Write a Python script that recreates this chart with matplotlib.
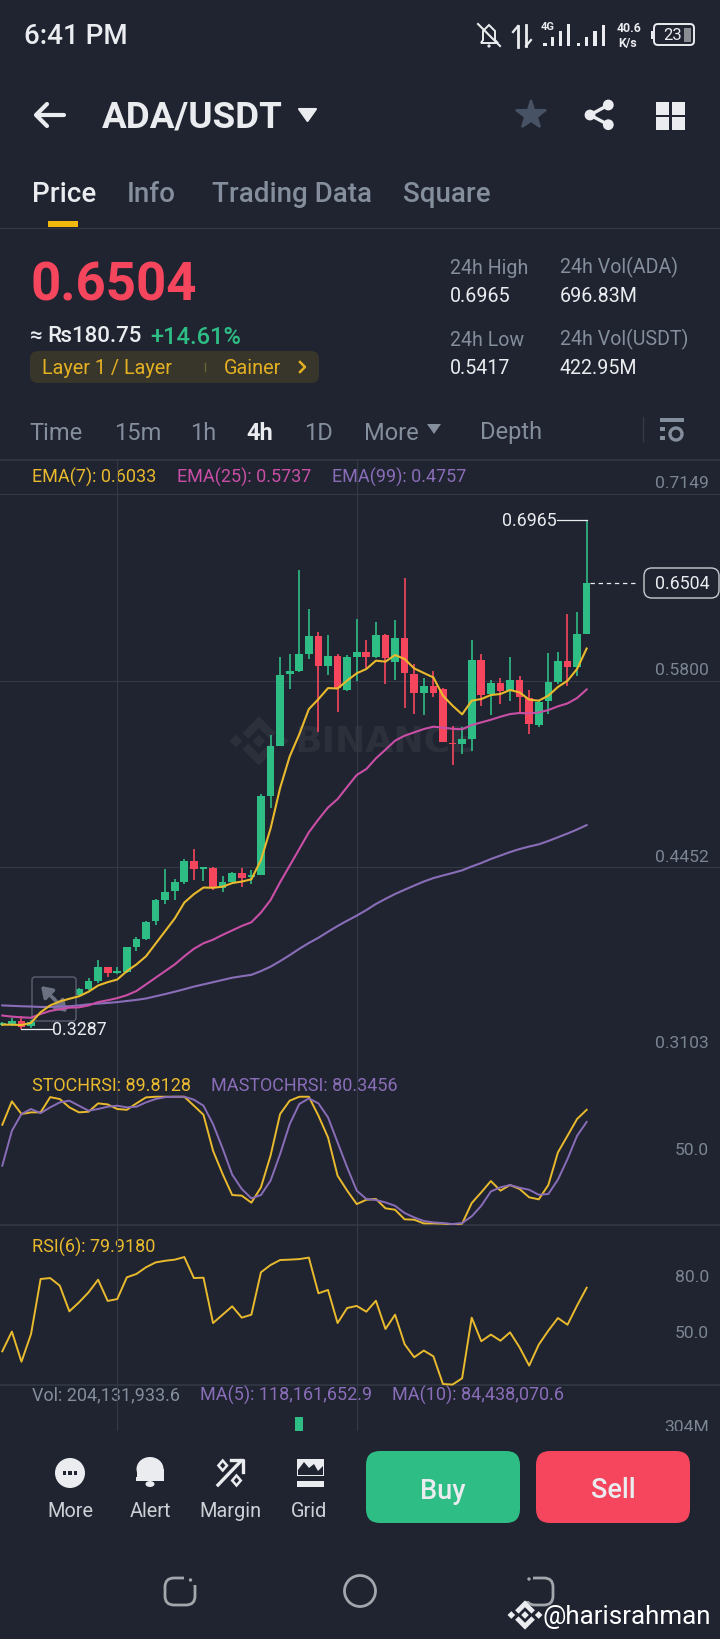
import numpy as np
import matplotlib
matplotlib.use('Agg')
from matplotlib import pyplot as plt
from matplotlib.patches import FancyBboxPatch, Rectangle, Circle, Ellipse, Polygon

plt.rcParams['font.family'] = ['Roboto', 'DejaVu Sans']

# candles
opens = [.3312,.3312,.3339,.3307,.3349,.3408,.3462,.3502,.3528,.3574,
         .3627,.3729,.3689,.3692,.3879,.3932,.4066,.4218,.4280,.4349,
         .4499,.4440,.4445,.4306,.4349,.4413,.4381,.4397,.4969,.5327,
         .5846,.5873,.5990,.6124,.5905,.5980,.5734,.5969,.6010,.5971,
         .6130,.5933,.6111,.5851,.5711,.5764,.5740,.5350,.5345,.5379,
         .5950,.5702,.5783,.5726,.5808,.5677,.5480,.5653,.5788,.5942,
         .5899,.6135]
closes = [.3328,.3339,.3301,.3333,.3408,.3462,.3502,.3528,.3574,.3627,
          .3729,.3686,.3702,.3879,.3932,.4060,.4218,.4274,.4349,.4499,
          .4440,.4451,.4301,.4344,.4413,.4376,.4392,.4969,.5327,.5841,
          .5873,.5990,.6124,.5905,.5980,.5750,.5969,.6006,.5971,.6130,
          .5966,.6111,.5856,.5711,.5764,.5711,.5355,.5340,.5379,.5952,
          .5697,.5783,.5726,.5808,.5682,.5485,.5649,.5793,.5942,.5899,
          .6135,.6504]
highs = [.3333,.3360,.3381,.3349,.3419,.3473,.3515,.3542,.3582,.3654,
         .3782,.3734,.3734,.3879,.3948,.4066,.4226,.4437,.4371,.4510,
         .4584,.4456,.4451,.4392,.4419,.4445,.4429,.4985,.5408,.5969,
         .5990,.6600,.6322,.6151,.6129,.5990,.5985,.6247,.6092,.6222,
         .6135,.6236,.6540,.5918,.5822,.5870,.5745,.5470,.5463,.6096,
         .5990,.5808,.5822,.5969,.5832,.5735,.5658,.6000,.6010,.6280,
         .6299,.6965]
lows = [.3307,.3307,.3287,.3291,.3347,.3398,.3451,.3494,.3515,.3568,
        .3617,.3659,.3681,.3686,.3847,.3927,.4034,.4189,.4215,.4333,
        .4360,.4354,.4285,.4274,.4344,.4312,.4333,.4397,.4884,.5327,
        .5739,.5862,.5958,.5429,.5841,.5573,.5728,.5798,.5894,.5966,
        .5779,.5808,.5600,.5562,.5552,.5682,.5355,.5191,.5268,.5292,
        .5620,.5552,.5634,.5653,.5576,.5417,.5465,.5562,.5779,.5764,
        .5836,.6135]

ema7 = [.3315,.3315,.3312,.3328,.3405,.3454,.3483,.3502,.3520,.3553,
        .3598,.3622,.3641,.3702,.3750,.3809,.3900,.3991,.4082,.4197,
        .4258,.4306,.4304,.4312,.4338,.4349,.4365,.4504,.4731,.5025,
        .5253,.5413,.5595,.5667,.5747,.5744,.5801,.5854,.5885,.5945,
        .5938,.5986,.5957,.5889,.5856,.5824,.5692,.5620,.5557,.5656,
        .5668,.5697,.5704,.5733,.5716,.5663,.5656,.5692,.5755,.5800,
        .5885,.6033]
ema25 = [.3381,.3373,.3368,.3365,.3392,.3414,.3427,.3438,.3440,.3454,
         .3478,.3491,.3507,.3528,.3558,.3606,.3654,.3702,.3750,.3809,
         .3863,.3903,.3929,.3964,.3996,.4028,.4055,.4125,.4215,.4344,
         .4464,.4584,.4705,.4798,.4884,.4945,.5033,.5119,.5162,.5239,
         .5302,.5367,.5403,.5427,.5451,.5468,.5461,.5453,.5449,.5480,
         .5499,.5518,.5540,.5559,.5567,.5564,.5571,.5588,.5615,.5636,
         .5675,.5737]
ema99 = [.3454,.3451,.3448,.3446,.3443,.3443,.3446,.3448,.3454,.3462,
         .3467,.3472,.3478,.3486,.3494,.3504,.3520,.3536,.3553,.3571,
         .3590,.3606,.3622,.3638,.3654,.3665,.3675,.3702,.3734,.3774,
         .3817,.3863,.3905,.3943,.3986,.4028,.4066,.4103,.4143,.4187,
         .4224,.4259,.4290,.4320,.4349,.4374,.4393,.4411,.4430,.4458,
         .4483,.4512,.4537,.4562,.4584,.4602,.4618,.4642,.4669,.4696,
         .4725,.4757]

stoch = [78.1,96.4,86.5,87.8,87.8,99.7,98.2,91.7,87.8,88.3,
         94.8,94.0,90.4,89.8,94.8,99.5,100,100,100,100,
         93.0,85.9,57.8,39.6,23.2,22.7,17.2,29.2,53.9,86.5,
         96.9,100,100,85.2,68.2,38.3,26.6,16.1,19.5,20.1,
         12.8,11.7,4.2,3.9,1.0,1.0,0.8,0,0.8,16.9,
         25.3,34.1,26.6,31.0,27.9,21.4,19.8,31.0,56.5,69.5,
         82.6,89.8]
mastoch = [46.1,73.4,86.5,90.4,87.2,91.7,95.6,96.9,93.0,89.1,
           90.4,92.2,93.0,91.7,92.2,95.6,98.2,99.7,100,100,
           97.7,93.0,78.6,59.6,39.1,27.9,20.6,23.2,34.4,55.2,
           78.6,94.3,98.7,94.8,83.9,64.3,44.8,26.6,20.1,19.3,
           17.4,14.8,9.1,5.7,2.9,1.8,1.3,0.5,1.3,6.5,
           14.8,26.0,29.2,31.0,28.9,27.3,23.4,24.0,35.2,51.3,
           69.5,80.3]
rsi = [45.7,56.3,40.1,55.0,84.6,85.1,81.0,67.2,72.0,77.4,
       84.2,72.8,73.8,85.5,87.3,90.9,93.5,94.4,95.0,96.4,
       85.1,85.3,60.9,65.4,69.9,63.8,65.4,88.2,92.1,94.8,
       95.0,95.3,96.1,76.9,78.7,60.9,69.0,70.1,67.0,72.9,
       57.7,65.4,49.5,42.5,46.1,43.0,28.1,27.8,31.2,63.8,
       51.1,54.7,51.4,55.9,47.8,38.0,49.3,56.8,63.6,60.0,
       70.3,79.9]

# only one volume bar pokes up into the visible strip
vol_idx = [31]
vol_val = [304e6]

price_ticks = [.7149, .5800, .4452, .3103]
price_labels = ['0.7149', '0.5800', '0.4452', '0.3103']
grid_candles = [12, 37]

BG = '#1F2430'
GRID = '#333945'
GREEN = '#2EBD85'
RED = '#F6465D'
YELLOW = '#E9B92E'
PINK = '#C94FA6'
PURPLE = '#8A6DB8'
GREY = '#848E9C'
AXISGREY = '#7C8593'
WHITE = '#EAECEF'

W, H = 720, 1640
fig = plt.figure(figsize=(W / 100, H / 100), dpi=100, facecolor=BG)

ui = fig.add_axes([0, 0, 1, 1], zorder=0)
ui.set_xlim(0, W)
ui.set_ylim(H, 0)
ui.axis('off')


def panel(top, bottom, ylim):
    ax = fig.add_axes([0, 1 - bottom / H, 1, (bottom - top) / H], zorder=1)
    ax.patch.set_alpha(0)
    ax.set_xlim(-0.24, 74.92)
    ax.set_ylim(*ylim)
    ax.axis('off')
    for g in grid_candles:
        ax.axvline(g, color=GRID, lw=0.8, zorder=1)
    return ax


def t(x, y, s, size=13, color=WHITE, ha='left', weight='normal', **kw):
    ui.text(x, y, s, fontsize=size, color=color, ha=ha, va='center', weight=weight, **kw)


def rbox(x, y, w, h, r, fc='none', ec='none', lw=1.0, target=None, z=2):
    p = FancyBboxPatch((x + r, y + r), w - 2 * r, h - 2 * r,
                       boxstyle='round,pad=%s,rounding_size=%s' % (r, r),
                       fc=fc, ec=ec, lw=lw, zorder=z, transform=ui.transData)
    (target or ui).add_patch(p)


def logo(cx, cy, s, color, z=1):
    # binance mark: three small diamonds and two chevrons
    for dx in (-0.72, 0, 0.72):
        a = 0.2
        ui.add_patch(Polygon([(cx + (dx - a) * s, cy), (cx + dx * s, cy - a * s),
                              (cx + (dx + a) * s, cy), (cx + dx * s, cy + a * s)],
                             fc=color, ec='none', zorder=z))
    for sg in (-1, 1):
        ui.add_patch(Polygon([(cx - 0.52 * s, cy + sg * 0.25 * s), (cx, cy + sg * 0.77 * s),
                              (cx + 0.52 * s, cy + sg * 0.25 * s), (cx + 0.34 * s, cy + sg * 0.07 * s),
                              (cx, cy + sg * 0.41 * s), (cx - 0.34 * s, cy + sg * 0.07 * s)],
                             fc=color, ec='none', zorder=z))


# main price panel
main = panel(461, 1055, (.3103, .7395))
for v, lab in zip(price_ticks, price_labels):
    main.axhline(v, color=GRID, lw=0.8, zorder=1)
    main.annotate(lab, (1, v), xycoords=('axes fraction', 'data'), xytext=(-8, 8),
                  textcoords='offset points', ha='right', va='center', fontsize=12.6,
                  color=AXISGREY, annotation_clip=False)

x = np.arange(len(opens))
opens_a, closes_a = np.array(opens), np.array(closes)
cols = [GREEN if c >= o else RED for o, c in zip(opens, closes)]
main.vlines(x, lows, highs, colors=cols, lw=1.2, zorder=2)
main.bar(x, np.maximum(np.abs(closes_a - opens_a), .0012), bottom=np.minimum(opens_a, closes_a),
         width=0.8, color=cols, zorder=2)

# the expand button sits over the candles but under the averages
rbox(32, 978, 44, 44, 3, fc=BG, ec='#596070', lw=1, target=main, z=3)
for a, b in [((54, 1000), (41, 987)), ((54, 1000), (67, 1013))]:
    main.annotate('', xy=b, xytext=a, xycoords=ui.transData, textcoords=ui.transData, zorder=3,
                  arrowprops=dict(arrowstyle='-|>,head_width=0.42,head_length=0.62', color='#6B7180', lw=2.6,
                                  shrinkA=0, shrinkB=0))

main.plot(x, ema99, color=PURPLE, lw=1.5, zorder=4)
main.plot(x, ema25, color=PINK, lw=1.5, zorder=4)
main.plot(x, ema7, color=YELLOW, lw=1.5, zorder=4)

# high / low / last markers
main.plot([57.9, 61], [.6965, .6965], color=WHITE, lw=0.9, zorder=5)
main.annotate('0.6965', (57.9, .6965), xytext=(0, 0), textcoords='offset points', ha='right', va='center',
              fontsize=12.8, color=WHITE, zorder=5)
main.plot([2, 5.2], [.3287, .3287], color=WHITE, lw=0.9, zorder=5)
main.annotate('0.3287', (5.2, .3287), xytext=(0, 0), textcoords='offset points', ha='left', va='center',
              fontsize=12.8, color=WHITE, zorder=5)
main.plot([61.4, 66.2], [.6504, .6504], color=WHITE, lw=0.9, ls=(0, (3.5, 3)), zorder=5)
rbox(644, 569, 75, 30, 8, fc=BG, ec='#C8CBD0', lw=1.0, target=main, z=5)
main.text(682, 584, '0.6504', fontsize=12.8, color=WHITE, ha='center', va='center', zorder=6,
          transform=ui.transData)

# stoch rsi panel
sr = panel(1055, 1225.7, (0, 133.4))
sr.plot(x, stoch, color=YELLOW, lw=1.4, zorder=3)
sr.plot(x, mastoch, color=PURPLE, lw=1.4, zorder=3)
sr.annotate('50.0', (1, 50), xycoords=('axes fraction', 'data'), xytext=(-8, 8), textcoords='offset points',
            ha='right', va='center', fontsize=12.6, color=AXISGREY)

# rsi panel
rp = panel(1225.7, 1385.7, (27.74, 113.8))
rp.plot(x, rsi, color=YELLOW, lw=1.4, zorder=3, clip_on=False)
for v in (80, 50):
    rp.annotate('%.1f' % v, (1, v), xycoords=('axes fraction', 'data'), xytext=(-8, 8),
                textcoords='offset points', ha='right', va='center', fontsize=12.6, color=AXISGREY)

# volume strip, cut off by the bottom toolbar
vp = panel(1385.7, 1432, (250e6, 428.6e6))
vp.bar(vol_idx, vol_val, width=0.8, color=GREEN, zorder=2)
vt = vp.annotate('304M', (1, 304e6), xycoords=('axes fraction', 'data'), xytext=(-8, -6.5),
                 textcoords='offset points', ha='right', va='center', fontsize=12.6, color=AXISGREY)
vt.set_clip_on(True)
vt.set_clip_box(vp.bbox)

# panel separators
for y in (461, 1225.7, 1385.7):
    ui.plot([0, W], [y, y], color=GRID, lw=1.1, zorder=1)

# watermark
logo(259, 742, 32, '#2B303B')
t(295, 742, 'BINANCE', size=26, color='#2B303B', weight='bold', family='DejaVu Sans', zorder=1)

# legends
t(32, 477, 'EMA(7): 0.6033', color=YELLOW)
t(177, 477, 'EMA(25): 0.5737', color=PINK)
t(331.5, 477, 'EMA(99): 0.4757', color=PURPLE)
t(32, 1086, 'STOCHRSI: 89.8128', color=YELLOW)
t(211, 1086, 'MASTOCHRSI: 80.3456', color=PURPLE)
t(32, 1247, 'RSI(6): 79.9180', color=YELLOW)
t(32, 1395.5, 'Vol: 204,131,933.6', color=GREY)
t(200, 1395.5, 'MA(5): 118,161,652.9', color=PURPLE)
t(392, 1395.5, 'MA(10): 84,438,070.6', color=PURPLE)

# status bar
t(24, 37, '6:41 PM', size=20, weight='medium')
ui.add_patch(Polygon([(481, 44), (483, 41), (483, 32), (489, 26), (495, 32), (495, 41), (498, 44)],
                     fc='none', ec=WHITE, lw=1.4))
ui.plot([478, 500], [25, 47], color=WHITE, lw=1.5)
ui.add_patch(Circle((489, 47), 1.6, fc=WHITE))
ui.plot([518, 518], [27, 48], color=WHITE, lw=2)
ui.plot([513, 518], [33, 27], color=WHITE, lw=1.6)
ui.plot([526, 526], [26, 47], color=WHITE, lw=2)
ui.plot([526, 531], [47, 41], color=WHITE, lw=1.6)
t(548, 27, '4G', size=8, ha='center', weight='bold')
for bx, top in zip([545, 552.7, 560.7, 568.3, 578.3, 586.7, 595, 603.3], [44, 38, 31.7, 25, 44, 38, 31.7, 26]):
    ui.add_patch(Rectangle((bx - 1.7, top), 3.4, 47.3 - top, fc=WHITE, ec='none'))
t(629, 29, '40.6', size=8.8, ha='center', weight='bold')
t(628, 44, 'K/s', size=8.8, ha='center', weight='bold')
rbox(654, 25, 40, 21, 4, ec=WHITE, lw=1.4)
ui.add_patch(Rectangle((651, 32), 2, 8, fc=WHITE))
ui.add_patch(Rectangle((684, 29), 7, 14, fc='#8A8D92'))
t(673, 36, '23', size=12, ha='center')

# header
ui.plot([37, 64], [116, 116], color=WHITE, lw=3, solid_capstyle='round')
ui.plot([47, 36, 47], [105, 116, 127], color=WHITE, lw=3, solid_capstyle='round', solid_joinstyle='round')
t(102, 118, 'ADA/USDT', size=26.5, weight='bold')
ui.add_patch(Polygon([(299, 110), (316, 110), (307.5, 122)], fc=WHITE, ec=WHITE, lw=1.5, joinstyle='round'))
ui.plot([531], [116], marker='*', ms=22, color='#475365', mec='#475365', mew=1.5)
ui.plot([608.3, 590, 608.3], [106, 116, 125.7], color=WHITE, lw=2.4)
for nx, ny in [(608.3, 106), (590, 116), (608.3, 125.7)]:
    ui.add_patch(Circle((nx, ny), 5.4, fc=WHITE))
for qx in (656, 672):
    for qy in (103, 118):
        ui.add_patch(Rectangle((qx, qy), 12.5, 12.5, fc=WHITE))

# tabs
t(31.5, 194, 'Price', size=20, weight='medium')
t(127, 194, 'Info', size=20, color=GREY, weight='medium')
t(211.5, 194, 'Trading Data', size=20, color=GREY, weight='medium')
t(403.5, 194, 'Square', size=20, color=GREY, weight='medium')
ui.add_patch(Rectangle((48, 222), 30, 6, fc='#F0B90B'))
ui.plot([0, W], [228.5, 228.5], color=GRID, lw=0.9)

# price block
t(30.5, 286, '0.6504', size=38, color=RED, weight='bold')
t(30, 337, '≈ ₨180.75', size=16, weight='medium')
t(150, 337, '+14.61%', size=17, color=GREEN, weight='medium')
rbox(30, 352, 289, 32, 8, fc='#38352A')
t(42, 369, 'Layer 1 / Layer', size=14.3, color='#E3B023')
ui.plot([205, 205], [364, 372], color='#6B6439', lw=1)
t(224, 369, 'Gainer', size=14.3, color='#E3B023')
ui.plot([300, 305, 300], [363, 368, 373], color='#E3B023', lw=1.8)

t(449.5, 268, '24h High', size=14.1, color=GREY)
t(560, 267, '24h Vol(ADA)', size=14.1, color=GREY)
t(449.5, 297, '0.6965', size=14.1)
t(560, 296, '696.83M', size=14.1)
t(449.5, 340, '24h Low', size=14.1, color=GREY)
t(560, 339, '24h Vol(USDT)', size=14.1, color=GREY)
t(449.5, 369, '0.5417', size=14.1)
t(560, 368, '422.95M', size=14.1)

# interval bar
for ix, lab in zip([29.5, 114, 190, 304, 364.5, 479.5], ['Time', '15m', '1h', '1D', 'More', 'Depth']):
    t(ix, 433, lab, size=17, color=GREY)
t(246.5, 433, '4h', size=17, weight='bold')
ui.add_patch(Polygon([(427, 425), (441, 425), (434, 435)], fc=GREY))
ui.plot([643, 643], [418, 442], color=GRID, lw=1)
ui.add_patch(Rectangle((660, 419), 24, 3.5, fc=GREY))
ui.add_patch(Rectangle((660, 428), 5, 4, fc=GREY))
ui.add_patch(Rectangle((660, 437), 5, 4, fc=GREY))
ui.add_patch(Circle((676, 435), 6, fc=BG, ec=GREY, lw=2.4))

# toolbar
ui.add_patch(Rectangle((0, 1432), W, 208, fc=BG, zorder=0.5))
rbox(366, 1452, 154, 72, 14, fc=GREEN)
rbox(536, 1452, 154, 72, 14, fc=RED)
t(443, 1491.5, 'Buy', size=19.5, ha='center', weight='medium')
t(613, 1491, 'Sell', size=19.5, ha='center', weight='medium')
for ix, lab in zip([70, 150, 230.5, 309.5], ['More', 'Alert', 'Margin', 'Grid']):
    t(ix, 1512, lab, size=14.3, ha='center', color='#CDD1D6')

ui.add_patch(Circle((70, 1474), 15, fc=WHITE))
for dx in (-5.5, 0, 5.5):
    ui.add_patch(Rectangle((70 + dx - 1.6, 1472.4), 3.2, 3.2, fc=BG))

ui.add_patch(Ellipse((150, 1470), 27, 24, fc=WHITE))
ui.add_patch(Rectangle((136.5, 1470), 27, 11, fc=WHITE))
ui.add_patch(Rectangle((136, 1478), 28, 3.5, fc=WHITE))
ui.add_patch(Ellipse((150, 1485), 9, 6, fc=WHITE))

ui.plot([218, 241], [1486, 1462], color=WHITE, lw=2.4)
ui.plot([231, 243, 243], [1461, 1461, 1473], color=WHITE, lw=2.4)
ui.add_patch(Polygon([(222.7, 1461.5), (227, 1466.5), (222.7, 1471.5), (218.4, 1466.5)], fc=BG, ec=WHITE, lw=1.8))
ui.add_patch(Polygon([(236.5, 1476.5), (240.8, 1481.5), (236.5, 1486.5), (232.2, 1481.5)], fc=BG, ec=WHITE, lw=1.8))

ui.add_patch(Rectangle((297, 1460), 27, 17, fc=WHITE))
ui.add_patch(Polygon([(298, 1471), (304, 1463), (309, 1469), (314, 1465), (318, 1472), (323, 1467), (323, 1476),
                      (298, 1476)], fc=BG))
ui.add_patch(Rectangle((297, 1482), 27, 5.5, fc=WHITE))

# nav bar
NAV = '#A3A6AB'
rbox(165, 1579, 30, 27, 9, ec=NAV, lw=2)
ui.add_patch(Rectangle((184, 1575), 13, 11, fc=BG, zorder=3))
ui.add_patch(Circle((190.5, 1581), 1.7, fc=NAV, zorder=4))
ui.add_patch(Circle((360, 1592), 15.5, fc='none', ec=NAV, lw=2))
rbox(526, 1579, 27, 27, 9, ec=NAV, lw=2)
ui.add_patch(Rectangle((522, 1575), 11, 9, fc=BG, zorder=3))
ui.add_patch(Rectangle((522, 1583), 8, 19, fc=BG, zorder=3))
ui.add_patch(Circle((529, 1580), 1.7, fc=NAV, zorder=4))

# corner watermark
logo(525, 1616, 19, WHITE, z=5)
t(542.5, 1617, '@harisrahman', size=18.7, color='white', zorder=5)

fig.savefig('out.png', dpi=100, facecolor=BG)
